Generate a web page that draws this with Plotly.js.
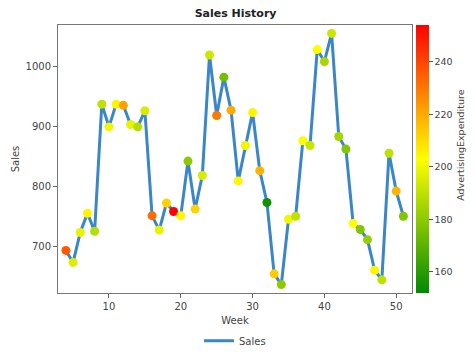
<!DOCTYPE html>
<html><head><meta charset="utf-8">
<script src="https://cdn.plot.ly/plotly-3.0.1.min.js"></script>
<style>body{margin:0;background:#fff}#c{width:474px;height:355px}</style>
</head><body><div id="c"></div>
<script>
var weeks = [4,5,6,7,8,9,10,11,12,13,14,15,16,17,18,19,20,21,22,23,24,25,26,27,28,29,30,31,32,33,34,35,36,37,38,39,40,41,42,43,44,45,46,47,48,49,50,51];
var sales = [694,674,724,756,726,938,900,938,936,904,900,927,752,728,773,759,752,843,763,819,1020,919,983,928,810,869,924,827,774,655,637,746,751,877,869,1029,1009,1056,884,863,739,729,712,661,645,856,793,751];
var advertising = [236,196,198,205,188,190,200,205,222,198,188,195,232,198,212,254,205,180,212,195,193,230,175,220,205,200,205,218,155,213,180,200,190,202,192,203,185,192,185,178,203,178,182,205,190,190,218,178];
var xTicks = [10,20,30,40,50];
var yTicks = [700,800,900,1000];

var font = "DejaVu Sans, sans-serif";
var lineTrace = {
  x: weeks, y: sales, type: 'scatter', mode: 'lines', name: 'Sales',
  line: {color: '#3a86c8', width: 3}, showlegend: true
};
var markerTrace = {
  x: weeks, y: sales, type: 'scatter', mode: 'markers', showlegend: false,
  hoverinfo: 'skip',
  marker: {
    size: 9, color: advertising, cmin: 152, cmax: 254,
    colorscale: [[0,'#008a00'],[0.5,'#ffff00'],[1,'#ff0000']],
    line: {width: 0},
    colorbar: {
      thickness: 13, len: 268, lenmode: 'pixels',
      x: 1.011, xanchor: 'left', xpad: 0, y: 0, yanchor: 'bottom', ypad: 0,
      outlinewidth: 0, tickvals: [160,180,200,220,240], ticks: 'outside', ticklen: 4,
      tickcolor: '#555', tickfont: {family: font, size: 9.5, color: '#444'}
    }
  }
};
var layout = {
  width: 474, height: 355,
  margin: {l: 58, r: 62, t: 25, b: 62, autoexpand: false},
  paper_bgcolor: '#fff', plot_bgcolor: '#fff',
  font: {family: font, size: 10, color: '#444'},
  title: {text: '<b>Sales History</b>', x: 0.497, xanchor: 'center', y: 0.962, yanchor: 'middle',
          font: {family: font, size: 11, color: '#222'}},
  xaxis: {range: [2.9, 52.2], tickvals: xTicks, ticks: 'outside', ticklen: 4, tickcolor: '#666',
          showgrid: false, zeroline: false, showline: true, linecolor: '#777', linewidth: 1, mirror: true,
          tickfont: {family: font, size: 10, color: '#444'},
          title: {text: 'Week', standoff: 10, font: {family: font, size: 10, color: '#444'}}},
  yaxis: {range: [623, 1070], tickvals: yTicks, ticks: 'outside', ticklen: 4, tickcolor: '#666',
          showgrid: false, zeroline: false, showline: true, linecolor: '#777', linewidth: 1, mirror: true,
          tickfont: {family: font, size: 10, color: '#444'},
          title: {text: 'Sales', standoff: 4, font: {family: font, size: 10, color: '#444'}}},
  legend: {orientation: 'h', x: 0.5, xanchor: 'center', yref: 'container', y: 0.04, yanchor: 'middle',
           font: {family: font, size: 10, color: '#444'}},
  annotations: [{text: 'AdvertisingExpenditure', xref: 'paper', yref: 'paper', x: 1.136, y: 0.55,
                 xanchor: 'center', yanchor: 'middle', textangle: -90, showarrow: false,
                 font: {family: font, size: 9.5, color: '#444'}}]
};
Plotly.newPlot('c', [lineTrace, markerTrace], layout, {displayModeBar: false, staticPlot: true});
</script></body></html>
